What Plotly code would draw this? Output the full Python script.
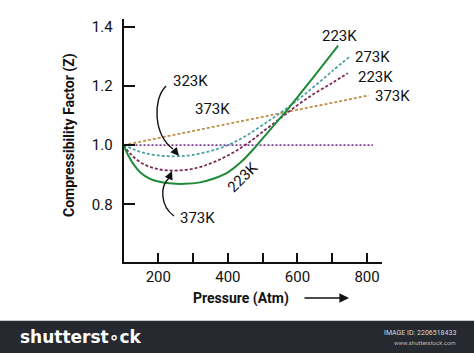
import plotly.graph_objects as go

W, H = 474, 353

# ---- data ----
p_223_solid = [100, 115, 130, 150, 175, 200, 240, 275, 320, 360, 400, 440, 480, 520, 570, 645, 717]
z_223_solid = [1.0, 0.962, 0.933, 0.906, 0.887, 0.877, 0.870, 0.869, 0.874, 0.887, 0.908, 0.945, 0.995, 1.05, 1.118, 1.228, 1.336]

p_273 = [100, 130, 160, 200, 250, 300, 350, 400, 450, 500, 550, 600, 650, 700, 748]
z_273 = [1.0, 0.985, 0.973, 0.965, 0.962, 0.967, 0.98, 1.0, 1.03, 1.068, 1.108, 1.152, 1.2, 1.25, 1.297]

p_223_dash = [100, 120, 150, 190, 240, 300, 350, 400, 450, 500, 550, 600, 650, 700, 745]
z_223_dash = [1.0, 0.97, 0.941, 0.921, 0.914, 0.92, 0.938, 0.965, 1.0, 1.045, 1.09, 1.135, 1.175, 1.21, 1.243]

p_373 = [100, 805]
z_373 = [1.0, 1.168]

p_ideal = [100, 817]
z_ideal = [1.0, 1.0]

x_ticks = [200, 300, 400, 500, 600, 700, 800]
x_ticktext = ["200", "", "400", "", "600", "", "800"]
y_ticks = [0.8, 1.0, 1.2, 1.4]
y_ticktext = ["0.8", "1.0", "1.2", "1.4"]

FONT = "Roboto, Arial, sans-serif"

def px(x):
    return x / W

def py(y):
    return 1 - y / H

fig = go.Figure()

dash = "3px,2px"
fig.add_trace(go.Scatter(x=p_ideal, y=z_ideal, mode="lines",
                         line=dict(color="#7e3a98", width=1.8, dash="2px,2px")))
fig.add_trace(go.Scatter(x=p_373, y=z_373, mode="lines",
                         line=dict(color="#c0904a", width=1.8, dash=dash)))
fig.add_trace(go.Scatter(x=p_273, y=z_273, mode="lines", line_shape="spline",
                         line=dict(color="#4fa3a3", width=1.8, dash=dash)))
fig.add_trace(go.Scatter(x=p_223_dash, y=z_223_dash, mode="lines", line_shape="spline",
                         line=dict(color="#7a2a52", width=1.8, dash=dash)))
fig.add_trace(go.Scatter(x=p_223_solid, y=z_223_solid, mode="lines", line_shape="spline",
                         line=dict(color="#1f8a38", width=2)))

ann = []
def label(text, x, y, size=15, angle=0):
    ann.append(dict(text=text, x=px(x), y=py(y), xref="paper", yref="paper",
                    showarrow=False, textangle=angle,
                    font=dict(family=FONT, size=size, color="#111111"),
                    xanchor="center", yanchor="middle"))

label("223K", 339, 36)
label("273K", 372, 57)
label("223K", 375, 77)
label("373K", 392, 96)
label("323K", 190, 81)
label("373K", 212, 109)
label("223K", 243, 177, angle=-45)
label("373K", 197, 218)

# axis titles
ann.append(dict(text="<b>Compressibility Factor (Z)</b>", x=px(69), y=py(135),
                xref="paper", yref="paper", showarrow=False, textangle=-90,
                font=dict(family=FONT, size=14, color="#111111"),
                xanchor="center", yanchor="middle"))
ann.append(dict(text="<b>Pressure (Atm)</b>", x=px(241), y=py(298),
                xref="paper", yref="paper", showarrow=False,
                font=dict(family=FONT, size=14, color="#111111"),
                xanchor="center", yanchor="middle"))
# straight arrow next to x title
ann.append(dict(text="", x=px(349), y=py(298), xref="paper", yref="paper",
                ax=-46, ay=0, showarrow=True, arrowhead=2, arrowsize=1.2,
                arrowwidth=1.6, arrowcolor="#111111"))
# arrowheads for curved pointers
ann.append(dict(text="", x=px(179), y=py(156), xref="paper", yref="paper",
                ax=-6, ay=-7, showarrow=True, arrowhead=2, arrowsize=1.2,
                arrowwidth=1.4, arrowcolor="#111111"))
ann.append(dict(text="", x=px(172), y=py(171), xref="paper", yref="paper",
                ax=-3, ay=7, showarrow=True, arrowhead=2, arrowsize=1.2,
                arrowwidth=1.4, arrowcolor="#111111"))

# shutterstock footer text
ann.append(dict(text="<b>shutterst\u2218ck</b>", x=px(18), y=py(337), xref="paper", yref="paper",
                showarrow=False, xanchor="left", yanchor="middle",
                font=dict(family="DejaVu Sans, sans-serif", size=17, color="#ffffff")))
ann.append(dict(text="IMAGE ID: 2206518433", x=px(458), y=py(333), xref="paper", yref="paper",
                showarrow=False, xanchor="right", yanchor="middle",
                font=dict(family=FONT, size=7, color="#d8d8d8")))
ann.append(dict(text="www.shutterstock.com", x=px(458), y=py(342), xref="paper", yref="paper",
                showarrow=False, xanchor="right", yanchor="middle",
                font=dict(family=FONT, size=6, color="#b8b8b8")))

shapes = [
    dict(type="rect", xref="paper", yref="paper", x0=0, x1=1, y0=0, y1=py(321),
         fillcolor="#262930", line=dict(width=0), layer="above"),
    dict(type="line", xref="paper", yref="paper", x0=0, x1=1, y0=py(320.5), y1=py(320.5),
         line=dict(color="#c8c8c8", width=1)),
    dict(type="path", xref="paper", yref="paper",
         path=f"M {px(166)},{py(86)} C {px(152)},{py(100)} {px(154)},{py(135)} {px(173)},{py(149)}",
         line=dict(color="#111111", width=1.4)),
    dict(type="path", xref="paper", yref="paper",
         path=f"M {px(174)},{py(216)} C {px(160)},{py(206)} {px(160)},{py(186)} {px(169)},{py(178)}",
         line=dict(color="#111111", width=1.4)),
]

fig.update_layout(
    width=W, height=H, margin=dict(l=0, r=0, t=0, b=0),
    paper_bgcolor="white", plot_bgcolor="white",
    showlegend=False,
    annotations=ann, shapes=shapes,
    xaxis=dict(domain=[px(123.5), px(382)], range=[100, 843],
               tickvals=x_ticks, ticktext=x_ticktext, ticks="inside", ticklen=9,
               tickwidth=1.5, tickcolor="#111111", showline=True, linecolor="#111111",
               linewidth=1.8, showgrid=False, zeroline=False,
               tickfont=dict(family=FONT, size=15, color="#111111")),
    yaxis=dict(domain=[py(261.7), py(19)], range=[0.606, 1.426],
               tickvals=y_ticks, ticktext=y_ticktext, ticks="inside", ticklen=12,
               tickwidth=1.5, tickcolor="#111111", showline=True, linecolor="#111111",
               linewidth=1.8, showgrid=False, zeroline=False, ticklabelstandoff=6,
               tickfont=dict(family=FONT, size=15, color="#111111")),
)

fig.write_html("out.html")
